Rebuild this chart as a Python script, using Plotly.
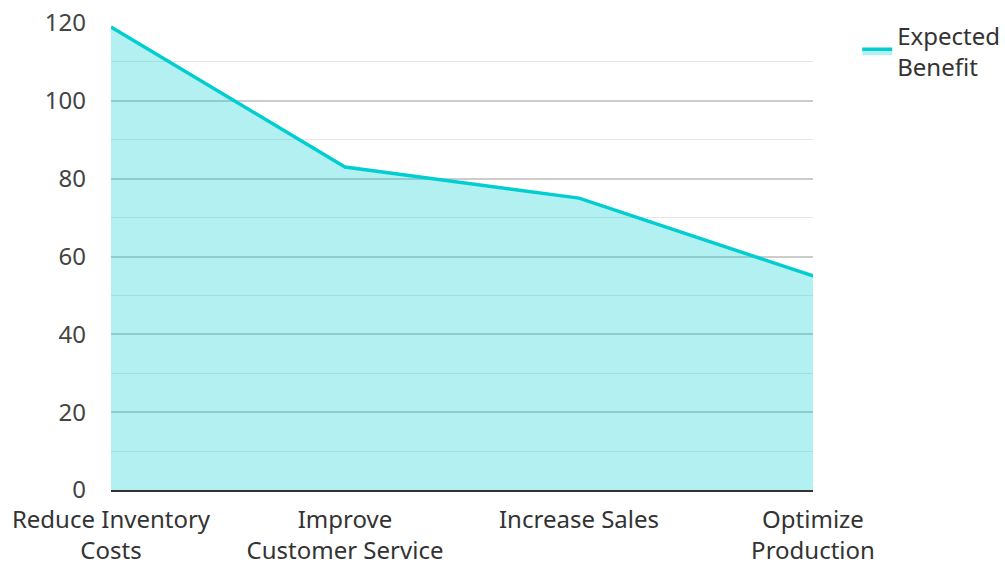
import plotly.graph_objects as go

categories = ["Reduce Inventory<br>Costs", "Improve<br>Customer Service", "Increase Sales", "Optimize<br>Production"]
expected_benefit = [119, 83, 75, 55]
series_name = "Expected<br>Benefit"
y_ticks = [0, 20, 40, 60, 80, 100, 120]

fig = go.Figure()
fig.add_trace(go.Scatter(
    x=categories, y=expected_benefit, name=series_name,
    mode="lines", fill="tozeroy",
    line=dict(color="#00CED1", width=3.5),
    fillcolor="rgba(0,206,209,0.3)",
))

fig.update_layout(
    width=1005, height=562,
    margin=dict(l=111, r=192, t=23, b=72, autoexpand=False),
    paper_bgcolor="white", plot_bgcolor="white",
    font=dict(family="Noto Sans, Open Sans, sans-serif", size=24, color="#444"),
    showlegend=True,
    legend=dict(x=1.063, y=1.02, xanchor="left", yanchor="top",
                font=dict(size=24, color="#333"), bgcolor="rgba(0,0,0,0)"),
    xaxis=dict(type="category", range=[0, 3], showgrid=False, automargin=False,
               showline=True, linecolor="#333", linewidth=2,
               ticks="", ticklabelstandoff=7, tickfont=dict(size=24, color="#333")),
    yaxis=dict(range=[0, 120], tickvals=y_ticks, showgrid=True, automargin=False,
               gridcolor="#cccccc", gridwidth=2, zeroline=False,
               showline=False, ticks="", ticklabelstandoff=24,
               tickfont=dict(size=24, color="#444"),
               minor=dict(dtick=10, showgrid=True, gridcolor="#e6e6e6", gridwidth=1)),
)

fig.write_html("out.html", config={"displayModeBar": False},
               post_script="document.body.style.margin='0';document.body.style.overflow='hidden';")
